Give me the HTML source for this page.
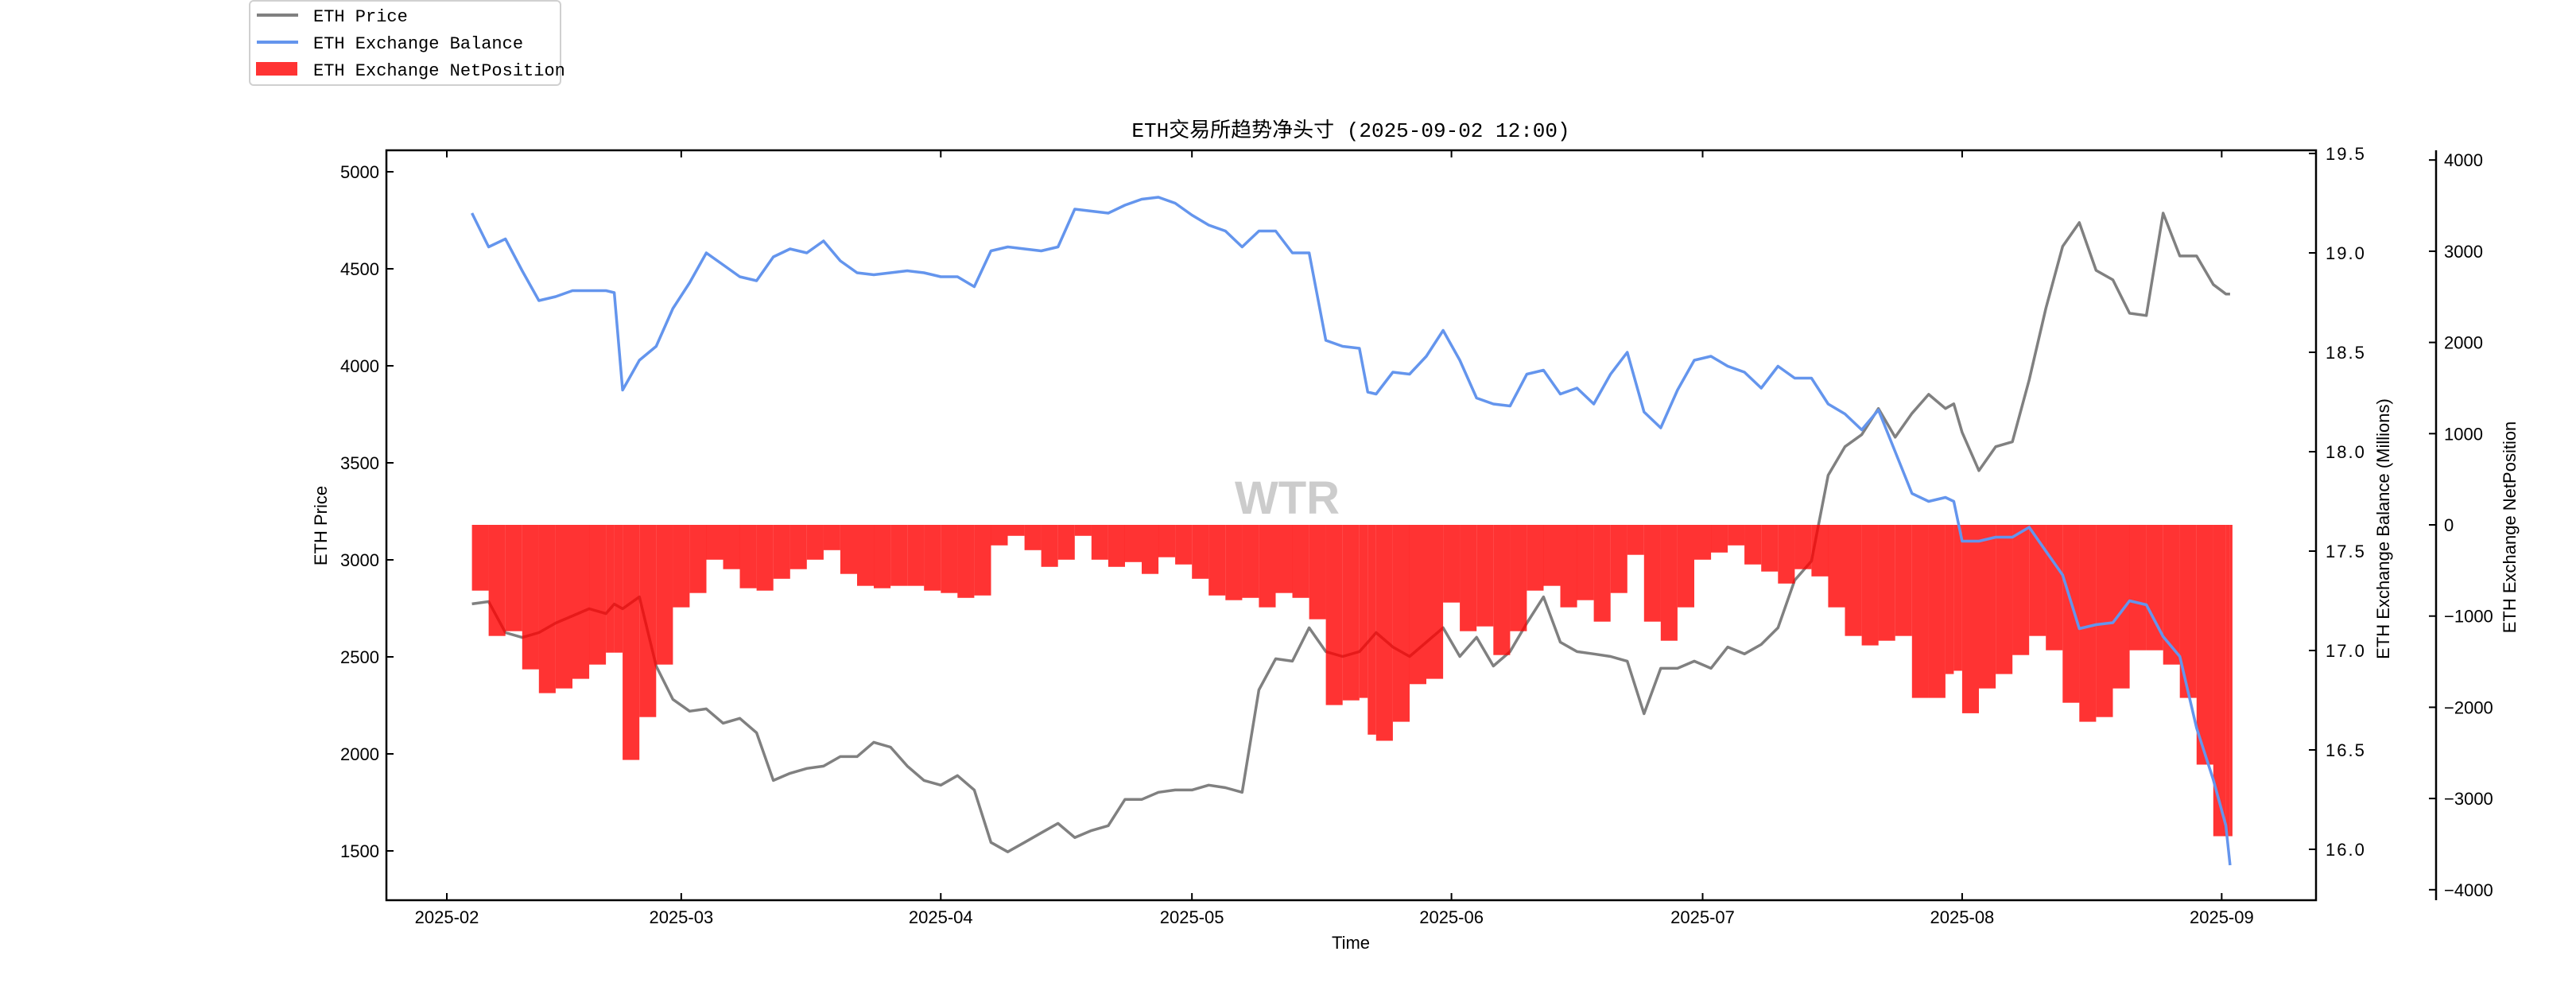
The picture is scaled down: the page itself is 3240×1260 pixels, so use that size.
<!DOCTYPE html>
<html><head><meta charset="utf-8"><style>
html,body{margin:0;padding:0;background:#fff;}
svg{display:block;font-family:"Liberation Sans","Noto Sans CJK SC",sans-serif;}
</style></head><body>
<svg id="chart" width="3240" height="1260" viewBox="0 0 3240 1260" xmlns="http://www.w3.org/2000/svg">
<rect x="0" y="0" width="3240" height="1260" fill="#fff"/>
<g id="legend">
<rect x="314" y="1" width="391" height="106" rx="5" fill="#fff" stroke="#d0d0d0" stroke-width="2"/>
<line x1="323" y1="19" x2="375" y2="19" stroke="#808080" stroke-width="4"/>
<text x="394" y="27" font-size="22" font-family="Liberation Mono, monospace">ETH Price</text>
<line x1="323" y1="53" x2="375" y2="53" stroke="#6495ED" stroke-width="4"/>
<text x="394" y="61" font-size="22" font-family="Liberation Mono, monospace">ETH Exchange Balance</text>
<rect x="322" y="78" width="52" height="17" fill="rgba(255,0,0,0.8)"/>
<text x="394" y="95" font-size="22" font-family="Liberation Mono, monospace">ETH Exchange NetPosition</text>
</g>
<text x="1699" y="172" font-size="26" text-anchor="middle" font-family="Liberation Mono, 'Noto Sans CJK SC', monospace">ETH交易所趋势净头寸 (2025-09-02 12:00)</text>
<g id="priceG"></g>
<g id="barsG"></g>
<g id="balG"></g>
<text x="1619" y="646" font-size="58" text-anchor="middle" fill="#cccccc" font-weight="bold">WTR</text>
<g id="axesG"></g>
</svg>
<script>
const days=[3,5,7,9,11,13,15,17,19,20,21,23,25,27,29,31,33,35,37,39,41,43,45,47,49,51,53,55,57,59,61,63,65,67,69,71,73,75,77,79,81,83,85,87,89,91,93,95,97,99,101,103,105,107,109,110,111,113,115,117,119,121,123,125,127,129,131,133,135,137,139,141,143,145,147,149,151,153,155,157,159,161,163,165,167,169,171,173,175,177,179,180,181,183,185,187,189,191,193,195,197,199,201,203,205,207,209,211,212.5,213];
const price=[2773,2785,2625,2600,2625,2674,2711,2748,2723,2772,2748,2809,2453,2281,2220,2232,2158,2183,2109,1863,1900,1925,1937,1986,1986,2060,2035,1937,1863,1839,1888,1814,1544,1495,1544,1593,1642,1569,1605,1630,1765,1765,1802,1814,1814,1839,1826,1802,2330,2490,2478,2650,2527,2502,2527,2575,2625,2551,2502,2576,2650,2502,2601,2453,2527,2674,2809,2576,2527,2515,2502,2478,2207,2441,2441,2478,2441,2551,2515,2564,2650,2895,2994,3436,3583,3645,3780,3632,3755,3853,3780,3804,3657,3460,3583,3608,3927,4296,4615,4738,4492,4443,4271,4259,4787,4566,4566,4419,4370,4370];
const balance=[19.20,19.03,19.07,18.91,18.76,18.78,18.81,18.81,18.81,18.80,18.31,18.46,18.53,18.72,18.85,19.00,18.94,18.88,18.86,18.98,19.02,19.00,19.06,18.96,18.90,18.89,18.90,18.91,18.90,18.88,18.88,18.83,19.01,19.03,19.02,19.01,19.03,19.22,19.21,19.20,19.24,19.27,19.28,19.25,19.19,19.14,19.11,19.03,19.11,19.11,19.00,19.00,18.56,18.53,18.52,18.30,18.29,18.40,18.39,18.48,18.61,18.46,18.27,18.24,18.23,18.39,18.41,18.29,18.32,18.24,18.39,18.50,18.20,18.12,18.31,18.46,18.48,18.43,18.40,18.32,18.43,18.37,18.37,18.24,18.19,18.11,18.21,18.00,17.79,17.75,17.77,17.75,17.55,17.55,17.57,17.57,17.62,17.50,17.38,17.11,17.13,17.14,17.25,17.23,17.07,16.97,16.61,16.35,16.12,15.92];
const netpos=[-721,-1218,-1166,-1584,-1845,-1793,-1688,-1532,-1401,-1401,-2577,-2107,-1532,-904,-747,-382,-486,-695,-721,-591,-486,-382,-277,-538,-669,-695,-669,-669,-721,-747,-800,-774,-225,-120,-277,-460,-382,-120,-382,-460,-408,-538,-355,-434,-591,-774,-826,-800,-904,-747,-800,-1035,-1976,-1924,-1897,-2300,-2367,-2159,-1746,-1688,-852,-1166,-1113,-1427,-1166,-721,-669,-904,-826,-1061,-747,-329,-1061,-1270,-904,-382,-303,-225,-434,-512,-643,-486,-565,-904,-1218,-1322,-1270,-1218,-1897,-1897,-1636,-1600,-2065,-1793,-1636,-1427,-1218,-1375,-1950,-2159,-2107,-1793,-1375,-1375,-1532,-1897,-2629,-3413,-3413,-3413];
const xTickLabels=["2025-02","2025-03","2025-04","2025-05","2025-06","2025-07","2025-08","2025-09"];
const xTickDays=[0,28,59,89,120,150,181,212];
const priceTicks=[1500,2000,2500,3000,3500,4000,4500,5000];
const balTicks=[16.0,16.5,17.0,17.5,18.0,18.5,19.0,19.5];
const netTicks=[-4000,-3000,-2000,-1000,0,1000,2000,3000,4000];

const NS="http://www.w3.org/2000/svg";
const L=486,R=2913,T=189,B=1132;
const xS=d=>562+d*10.53;
const yP=p=>216+(5000-p)*0.244;
const yB=b=>193+(19.5-b)*250;
const yN=n=>660-n*0.1147;
function mk(tag,attrs,parent){const e=document.createElementNS(NS,tag);for(const k in attrs)e.setAttribute(k,attrs[k]);parent.appendChild(e);return e;}

const pg=document.getElementById('priceG');
const pp=mk('path',{d:days.map((d,i)=>(i?'L':'M')+xS(d).toFixed(1)+','+yP(price[i]).toFixed(1)).join(''),fill:'none',stroke:'#808080','stroke-width':3.5,'stroke-linejoin':'round'},pg);



const bg=document.getElementById('barsG');
days.forEach((d,i)=>{
  const x0=xS(d);const x1=i<days.length-1?xS(days[i+1]):x0+3;
  const y0=yN(0),y1=yN(netpos[i]);
  const r=mk('rect',{x:x0.toFixed(1),y:Math.min(y0,y1).toFixed(1),width:(x1-x0).toFixed(1),height:Math.abs(y1-y0).toFixed(1),fill:'rgba(255,0,0,0.8)'},bg);
  
  
});

const blg=document.getElementById('balG');
const bp=mk('path',{d:days.map((d,i)=>(i?'L':'M')+xS(d).toFixed(1)+','+yB(balance[i]).toFixed(1)).join(''),fill:'none',stroke:'#6495ED','stroke-width':3.5,'stroke-linejoin':'round'},blg);



const ag=document.getElementById('axesG');
const frame=mk('rect',{x:L,y:T,width:R-L,height:B-T,fill:'none',stroke:'#000','stroke-width':2.5},ag);


xTickDays.forEach((d,i)=>{
  const x=xS(d);
  mk('line',{x1:x,y1:B,x2:x,y2:B-9,stroke:'#000','stroke-width':2},ag);
  mk('line',{x1:x,y1:T,x2:x,y2:T+9,stroke:'#000','stroke-width':2},ag);
  const t=mk('text',{x:x,y:1161,'font-size':22,'text-anchor':'middle'},ag);
  t.textContent=xTickLabels[i];
  
  
});
priceTicks.forEach(p=>{
  const y=yP(p);
  mk('line',{x1:L,y1:y,x2:L+9,y2:y,stroke:'#000','stroke-width':2},ag);
  const t=mk('text',{x:477,y:y+8,'font-size':22,'text-anchor':'end'},ag);
  t.textContent=p;
  
  
});
balTicks.forEach(b=>{
  const y=yB(b);
  mk('line',{x1:R,y1:y,x2:R-9,y2:y,stroke:'#000','stroke-width':2},ag);
  const t=mk('text',{x:2925,y:y+8,'font-size':22,'letter-spacing':'2'},ag);
  t.textContent=b.toFixed(1);
  
  
});
const sp=mk('line',{x1:3064,y1:T,x2:3064,y2:B,stroke:'#000','stroke-width':2.5},ag);


netTicks.forEach(n=>{
  const y=yN(n);
  mk('line',{x1:3064,y1:y,x2:3055,y2:y,stroke:'#000','stroke-width':2},ag);
  const t=mk('text',{x:3074,y:y+8,'font-size':22},ag);
  t.textContent=n<0?'\u2212'+(-n):String(n);
  
  
});
const xt=mk('text',{x:1699,y:1193,'font-size':22,'text-anchor':'middle'},ag);xt.textContent='Time';


const yt=mk('text',{x:0,y:0,'font-size':22,'text-anchor':'middle',transform:'translate(411,661) rotate(-90)'},ag);yt.textContent='ETH Price';


const bt=mk('text',{x:0,y:0,'font-size':22,'text-anchor':'middle',transform:'translate(3005,665) rotate(-90)'},ag);bt.textContent='ETH Exchange Balance (Millions)';


const nt=mk('text',{x:0,y:0,'font-size':22,'text-anchor':'middle',transform:'translate(3164,663) rotate(-90)'},ag);nt.textContent='ETH Exchange NetPosition';


</script>
</body></html>
